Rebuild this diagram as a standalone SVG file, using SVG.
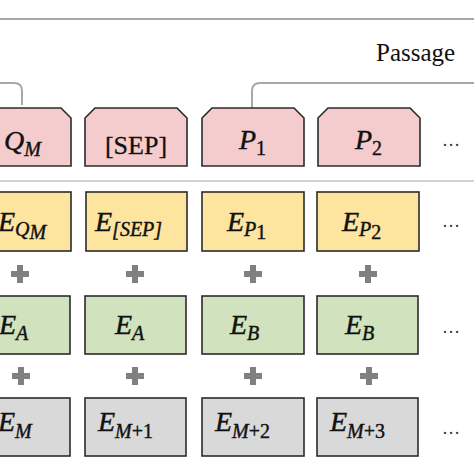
<svg xmlns="http://www.w3.org/2000/svg" width="474" height="474" viewBox="0 0 474 474">
<style>
.bx{stroke:#2b2b2b;stroke-width:1.6}
.pk{fill:#f4ccce}.yl{fill:#fde5a0}.gn{fill:#d0e2be}.gy{fill:#d9d9d9}
.ln{fill:none;stroke:#a8a8a8;stroke-width:2}
text{font-family:"Liberation Serif","Times New Roman",serif;fill:#111}
.m{font-style:italic;font-size:28px;stroke:#111;stroke-width:0.4}
.s{font-style:italic;font-size:20px}
.u{font-style:normal}
.up{font-size:26px;stroke:#111;stroke-width:0.3}
.dots{font-size:18px;fill:#333}
.plus{fill:#808080}
</style>
<defs>
<path id="pl" d="M-3,-9H3V-3H9V3H3V9H-3V3H-9V-3H-3Z"/>
</defs>
<rect width="474" height="474" fill="#fff"/>
<g id="connectors">
<line x1="0" y1="19" x2="474" y2="19" stroke="#a8a8a8" stroke-width="2"/>
<line x1="0" y1="181" x2="474" y2="181" stroke="#c4c4c4" stroke-width="1.5"/>
<path class="ln" d="M0,83H14Q22,83 22,91V105"/>
<path class="ln" d="M252,108V91Q252,83 260,83H474"/>
</g>
<text id="passage" x="376" y="61" font-size="25">Passage</text>
<g id="row1">
<g id="tok-qm"><path class="bx pk" d="M-31,166V108H61L71,118V166Z"/><text x="4" y="150" class="m">Q<tspan class="s" dy="6">M</tspan></text></g>
<g id="tok-sep"><path class="bx pk" d="M85,166V118L95,108H177L187,118V166Z"/><text x="136" y="154" class="up" text-anchor="middle">[SEP]</text></g>
<g id="tok-p1"><path class="bx pk" d="M202,166V118L212,108H294L304,118V166Z"/><text x="239" y="149" class="m">P<tspan class="s u" dy="6">1</tspan></text></g>
<g id="tok-p2"><path class="bx pk" d="M318,166V118L328,108H410L420,118V166Z"/><text x="355" y="149" class="m">P<tspan class="s u" dy="6">2</tspan></text></g>
<text x="451" y="146" class="dots" text-anchor="middle">…</text>
</g>
<g id="row2">
<g id="tok-eqm"><rect class="bx yl" x="-31" y="192" width="102" height="59"/><text x="-2" y="231" class="m">E<tspan class="s" dy="5">Q</tspan><tspan class="s" font-size="15" dy="3">M</tspan></text></g>
<g id="tok-esep"><rect class="bx yl" x="86" y="192" width="101" height="59"/><text x="95" y="231" class="m">E<tspan class="s" dy="5">[SEP]</tspan></text></g>
<g id="tok-ep1"><rect class="bx yl" x="202" y="192" width="102" height="59"/><text x="227" y="231" class="m">E<tspan class="s" dy="5">P</tspan><tspan class="s u" font-size="16" dy="3">1</tspan></text></g>
<g id="tok-ep2"><rect class="bx yl" x="317" y="192" width="102" height="59"/><text x="342" y="231" class="m">E<tspan class="s" dy="5">P</tspan><tspan class="s u" font-size="16" dy="3">2</tspan></text></g>
<text x="451" y="227" class="dots" text-anchor="middle">…</text>
</g>
<g id="plus1" class="plus">
<use href="#pl" x="20" y="274"/><use href="#pl" x="135" y="274"/><use href="#pl" x="253" y="274"/><use href="#pl" x="368" y="274"/>
</g>
<g id="row3">
<g id="tok-ea1"><rect class="bx gn" x="-31" y="296" width="101" height="58"/><text x="-1" y="334" class="m">E<tspan class="s" dy="6">A</tspan></text></g>
<g id="tok-ea2"><rect class="bx gn" x="85" y="296" width="101" height="58"/><text x="115" y="334" class="m">E<tspan class="s" dy="6">A</tspan></text></g>
<g id="tok-eb1"><rect class="bx gn" x="202" y="296" width="102" height="58"/><text x="230" y="334" class="m">E<tspan class="s" dy="6">B</tspan></text></g>
<g id="tok-eb2"><rect class="bx gn" x="317" y="296" width="101" height="58"/><text x="345" y="334" class="m">E<tspan class="s" dy="6">B</tspan></text></g>
<text x="451" y="333" class="dots" text-anchor="middle">…</text>
</g>
<g id="plus2" class="plus">
<use href="#pl" x="21" y="376"/><use href="#pl" x="135" y="376"/><use href="#pl" x="253" y="376"/><use href="#pl" x="369" y="376"/>
</g>
<g id="row4">
<g id="tok-em"><rect class="bx gy" x="-31" y="398" width="101" height="58"/><text x="-2" y="431" class="m">E<tspan class="s" dy="7">M</tspan></text></g>
<g id="tok-em1"><rect class="bx gy" x="85" y="398" width="101" height="58"/><text x="98" y="431" class="m">E<tspan class="s" dy="7">M<tspan class="u">+1</tspan></tspan></text></g>
<g id="tok-em2"><rect class="bx gy" x="202" y="398" width="102" height="58"/><text x="215" y="431" class="m">E<tspan class="s" dy="7">M<tspan class="u">+2</tspan></tspan></text></g>
<g id="tok-em3"><rect class="bx gy" x="317" y="398" width="101" height="58"/><text x="330" y="431" class="m">E<tspan class="s" dy="7">M<tspan class="u">+3</tspan></tspan></text></g>
<text x="451" y="434" class="dots" text-anchor="middle">…</text>
</g>
</svg>
